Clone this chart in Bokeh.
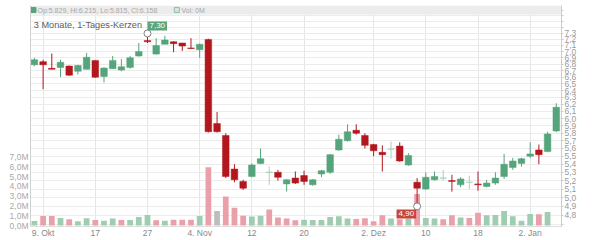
import math
from bokeh.plotting import figure
from bokeh.models import (Range1d, LinearAxis, LinearScale, FixedTicker,
                          CustomJSTickFormatter, Label)
from bokeh.core.properties import value
from bokeh.embed import file_html
from bokeh.resources import INLINE

# ---------------- data (trading days 8 Oct 2025 .. 7 Jan 2026) ----------------
opens = [6.79, 6.84, 6.735, 6.75, 6.77, 6.69, 6.72, 6.86, 6.61, 6.73,
         6.71, 6.75, 6.93, 7.18, 6.96, 7.12, 7.16, 7.14, 7.06, 7.03,
         7.20, 5.93, 5.77, 5.34, 5.19, 5.25, 5.41, 5.30, 5.30, 5.16,
         5.23, 5.26, 5.15, 5.28, 5.30, 5.58, 5.70, 5.84, 5.77, 5.65,
         5.55, 5.59, 5.63, 5.39, 5.18, 5.10, 5.21, 5.23, 5.20, 5.15,
         5.18, 5.16, 5.13, 5.17, 5.25, 5.36, 5.41, 5.50, 5.58, 5.56,
         5.829]
highs = [6.90, 6.87, 6.97, 6.87, 6.78, 6.79, 6.98, 6.86, 6.75, 6.93,
         6.88, 6.93, 7.14, 7.30, 7.22, 7.26, 7.17, 7.14, 7.22, 7.13,
         7.21, 6.09, 5.80, 5.40, 5.21, 5.41, 5.60, 5.37, 5.33, 5.22,
         5.31, 5.32, 5.22, 5.33, 5.53, 5.78, 5.92, 5.92, 5.80, 5.66,
         5.64, 5.69, 5.68, 5.54, 5.23, 5.30, 5.31, 5.33, 5.27, 5.24,
         5.26, 5.31, 5.21, 5.30, 5.53, 5.48, 5.48, 5.68, 5.65, 5.82,
         6.215]
lows = [6.77, 6.42, 6.72, 6.60, 6.62, 6.64, 6.72, 6.59, 6.52, 6.73,
        6.69, 6.73, 6.92, 7.14, 6.95, 7.12, 6.99, 7.01, 7.04, 6.90,
        5.81, 5.81, 5.23, 5.18, 5.09, 5.24, 5.40, 5.15, 5.20, 5.07,
        5.16, 5.15, 5.14, 5.24, 5.28, 5.57, 5.69, 5.78, 5.60, 5.50,
        5.31, 5.47, 5.43, 5.38, 4.90, 5.09, 5.20, 5.20, 5.07, 5.12,
        5.10, 5.08, 5.12, 5.15, 5.22, 5.33, 5.37, 5.48, 5.40, 5.55,
        5.815]
closes = [6.87, 6.79, 6.72, 6.83, 6.63, 6.78, 6.91, 6.60, 6.74, 6.86,
          6.76, 6.90, 7.00, 7.16, 7.10, 7.19, 7.13, 7.09, 7.05, 7.12,
          5.82, 5.82, 5.25, 5.21, 5.11, 5.39, 5.47, 5.30, 5.24, 5.21,
          5.17, 5.19, 5.21, 5.32, 5.52, 5.72, 5.82, 5.80, 5.64, 5.57,
          5.52, 5.59, 5.44, 5.51, 5.11, 5.24, 5.25, 5.23, 5.19, 5.22,
          5.18, 5.15, 5.17, 5.23, 5.40, 5.44, 5.47, 5.53, 5.52, 5.79,
          6.158]
volumes_m = [0.47, 0.98, 0.98, 0.78, 0.64, 0.43, 0.74, 0.57, 0.50, 0.71,
             0.57, 0.57, 0.88, 1.08, 0.54, 0.50, 0.60, 0.60, 0.60, 0.98,
             5.96, 1.48, 2.96, 1.82, 1.01, 0.91, 1.01, 1.65, 0.81, 0.71,
             0.54, 0.60, 0.57, 0.57, 0.88, 0.94, 0.71, 0.67, 0.74, 0.43,
             1.04, 0.71, 0.64, 0.71, 3.23, 0.78, 0.71, 0.64, 1.04, 0.81,
             0.78, 1.31, 1.04, 1.08, 1.48, 0.94, 0.50, 1.18, 1.14, 1.38,
             0.0]
tick_idx = [1, 7, 13, 19, 25, 31, 39, 45, 51, 57]
tick_labels = ["9. Okt", "17", "27", "4. Nov", "12", "20", "2. Dez", "10", "18", "2. Jan"]
price_ticks = [4.7, 4.8, 4.9, 5.0, 5.1, 5.2, 5.3, 5.4, 5.5, 5.6, 5.7, 5.8, 5.9,
               6.0, 6.1, 6.2, 6.3, 6.4, 6.5, 6.6, 6.7, 6.8, 6.9, 7.0, 7.1,
               7.2, 7.3, 7.4, 7.5, 7.6, 7.7]
vol_ticks = [0, 1, 2, 3, 4, 5, 6, 7]
hi_idx, hi_text = 13, "7,30"
lo_idx, lo_text = 44, "4,90"
legend_text = "Op:5.829, Hi:6.215, Lo:5.815, Cl:6.158"
vol_text = "Vol: 0M"
title_text = "3 Monate, 1-Tages-Kerzen"

# ---------------- styles ----------------
FONT = "Liberation Sans"
UP, DOWN, FLAT = "#55a47c", "#b3171e", "#a9cfba"
VUP, VDOWN, VFLAT = "#9ecdb1", "#eb9fa8", "#bdbdbd"

n = len(opens)
idx = list(range(n))

X0, X1 = -0.45, 60.6
Y0, Y1 = 4.678, 7.785
FL, FW, FT, FH = 30, 531, 5, 224


def dx(px):
    return X0 + (px - FL) * (X1 - X0) / FW


def dy(py):
    return math.exp(math.log(Y1) - (py - FT) * (math.log(Y1) - math.log(Y0)) / FH)


p = figure(width=600, height=240, x_range=Range1d(X0, X1), y_range=Range1d(Y0, Y1),
           y_axis_type="log", y_axis_location="right",
           output_backend="svg", toolbar_location=None,
           min_border_left=30, min_border_right=39, min_border_top=5, min_border_bottom=11)
p.outline_line_color = None
p.extra_y_ranges = {"vol": Range1d(-0.1, 22.5)}
p.extra_y_scales = {"vol": LinearScale()}

# price axis (right)
pt = FixedTicker(ticks=price_ticks)
ya = p.yaxis[0]
ya.ticker = pt
ya.formatter = CustomJSTickFormatter(
    code="return (tick < 4.75 || tick > 7.35) ? '' : tick.toFixed(1).replace('.', ',');")
ya.major_label_text_font = FONT
ya.major_label_text_font_size = "8.5px"
ya.major_label_text_color = "#9a9a9a"
ya.major_label_standoff = 1
ya.major_tick_out = 2
ya.major_tick_in = 0
ya.major_tick_line_color = "#cccccc"
ya.minor_tick_line_color = None
ya.axis_line_color = "#cccccc"
p.ygrid.ticker = pt
p.ygrid.grid_line_color = "#ececec"

# volume axis (left)
va = LinearAxis(y_range_name="vol", ticker=FixedTicker(ticks=vol_ticks),
                formatter=CustomJSTickFormatter(
                    code="return tick.toFixed(1).replace('.', ',') + 'M';"))
va.major_label_text_font = FONT
va.major_label_text_font_size = "8.5px"
va.major_label_text_color = "#a8a8a8"
va.major_label_standoff = 2
va.major_tick_out = 0
va.major_tick_in = 0
va.minor_tick_line_color = None
va.axis_line_color = "#d0d0d0"
p.add_layout(va, "left")

# x axis
xt = FixedTicker(ticks=tick_idx)
xa = p.xaxis[0]
xa.ticker = xt
xa.major_label_overrides = {int(k): v for k, v in zip(tick_idx, tick_labels)}
xa.major_label_text_font = FONT
xa.major_label_text_font_size = "8.5px"
xa.major_label_text_color = "#888888"
xa.major_label_standoff = 1
xa.major_tick_out = 0
xa.major_tick_in = 0
xa.minor_tick_line_color = None
xa.axis_line_color = "#dddddd"
p.xgrid.ticker = xt
p.xgrid.grid_line_color = "#e6e6e6"

# header band
p.quad(left=[X0], right=[X1], bottom=[dy(14)], top=[Y1], fill_color="#ececec", line_color=None)

# volume bars (colour by close vs previous close)
vcol = []
for i in idx:
    prev = closes[i - 1] if i > 0 else closes[i] - 1
    vcol.append(VUP if closes[i] > prev else (VDOWN if closes[i] < prev else VFLAT))
p.vbar(x=idx, top=volumes_m, bottom=0, width=0.66, fill_color=vcol, line_color=None,
       y_range_name="vol")

# candles
ccol = [UP if c > o else (DOWN if c < o else FLAT) for o, c in zip(opens, closes)]
p.segment(x0=idx, y0=lows, x1=idx, y1=highs, line_color=ccol, line_width=1)
bi = [i for i in idx if opens[i] != closes[i]]
p.vbar(x=bi, top=[max(opens[i], closes[i]) for i in bi],
       bottom=[min(opens[i], closes[i]) for i in bi], width=0.76,
       fill_color=[ccol[i] for i in bi], line_color=[ccol[i] for i in bi], line_width=0.5)
di = [i for i in idx if opens[i] == closes[i]]
p.segment(x0=[i - 0.38 for i in di], y0=[closes[i] for i in di],
          x1=[i + 0.38 for i in di], y1=[closes[i] for i in di],
          line_color=FLAT, line_width=1.2)

# high / low markers
p.scatter(x=[hi_idx, lo_idx], y=[highs[hi_idx], lows[lo_idx]], size=7,
          fill_color="white", line_color="#808080", line_width=1)
p.add_layout(Label(x=hi_idx, y=highs[hi_idx], text=hi_text, x_offset=0, y_offset=3,
                   text_align="left", text_baseline="bottom", text_color="white",
                   text_font=FONT, text_font_size="8px",
                   background_fill_color="#5aa57c", padding=2))
p.add_layout(Label(x=lo_idx, y=lows[lo_idx], text=lo_text, x_offset=-1, y_offset=-3,
                   text_align="right", text_baseline="top", text_color="white",
                   text_font=FONT, text_font_size="8px",
                   background_fill_color="#c8453e", padding=2))

# header legend & title
p.scatter(x=[dx(33)], y=[dy(9.5)], marker="square", size=5, fill_color=UP, line_color=UP)
p.scatter(x=[dx(176.3)], y=[dy(9.5)], marker="square", size=5, fill_color="#d2e8da",
          line_color="#8fbfa3")
p.text(x=[dx(37), dx(181)], y=[dy(9.7), dy(9.7)], text=[legend_text, vol_text],
       text_font=value(FONT), text_font_size=value("7px"), text_color="#a8a8a8",
       text_baseline="middle", text_align="left")
p.text(x=[dx(33.3)], y=[dy(25)], text=[title_text],
       text_font=value(FONT), text_font_size=value("9.2px"), text_color="#606060",
       text_baseline="alphabetic", text_align="left")

open("out.html", "w").write(file_html(p, INLINE))
